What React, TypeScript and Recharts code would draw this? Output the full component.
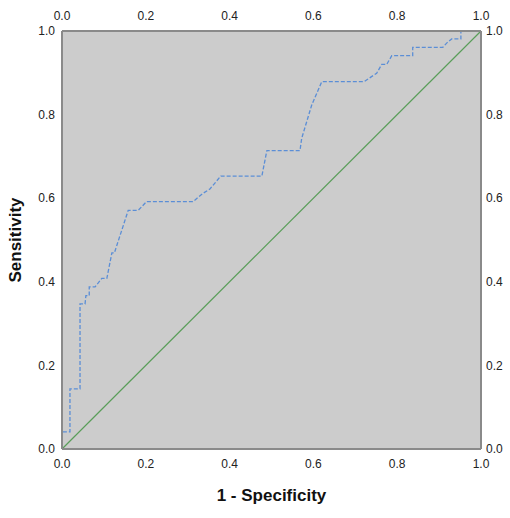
import React from 'react';
import { LineChart, Line, XAxis, YAxis, CartesianGrid } from 'recharts';

// ROC curve: 1 - specificity vs sensitivity
const rocFpr = [
  0, 0, 0.019, 0.019, 0.043, 0.043, 0.055, 0.057, 0.065, 0.065, 0.079, 0.095, 0.107, 0.119,
  0.125, 0.158, 0.182, 0.202, 0.313, 0.337, 0.353, 0.379, 0.477, 0.489, 0.568, 0.572, 0.596,
  0.62, 0.721, 0.751, 0.763, 0.775, 0.787, 0.837, 0.837, 0.909, 0.918, 0.93, 0.952, 0.952, 1,
];
const rocTpr = [
  0, 0.041, 0.041, 0.144, 0.144, 0.347, 0.347, 0.367, 0.367, 0.388, 0.388, 0.408, 0.408, 0.469,
  0.469, 0.571, 0.571, 0.592, 0.592, 0.612, 0.622, 0.653, 0.653, 0.714, 0.714, 0.743, 0.823,
  0.879, 0.879, 0.899, 0.92, 0.92, 0.941, 0.941, 0.961, 0.961, 0.971, 0.981, 0.981, 1, 1,
];

// reference diagonal
const refFpr = [0, 1];
const refTpr = [0, 1];

const axisTicks = [0, 0.2, 0.4, 0.6, 0.8, 1];

const rocData = rocFpr.map((fpr, i) => ({ fpr, tpr: rocTpr[i] }));
const refData = refFpr.map((fpr, i) => ({ fpr, tpr: refTpr[i] }));

const FONT = 'Arial, "Liberation Sans", sans-serif';
const tickStyle = { fontSize: 12, fill: '#222', fontFamily: FONT };
const axisLine = { stroke: '#8a8a8a', strokeWidth: 2 };
const fmt = (v: number) => v.toFixed(1);

const XTitle = ({ viewBox }: any) => (
  <text
    x={viewBox.x + viewBox.width / 2}
    y={viewBox.y + 52}
    textAnchor="middle"
    fontFamily={FONT}
    fontWeight="bold"
    fontSize={17}
    fill="#111"
  >
    1 - Specificity
  </text>
);

const YTitle = ({ viewBox }: any) => {
  const cx = 21;
  const cy = viewBox.y + viewBox.height / 2;
  return (
    <text
      x={cx}
      y={cy}
      transform={`rotate(-90 ${cx} ${cy})`}
      textAnchor="middle"
      fontFamily={FONT}
      fontWeight="bold"
      fontSize={17}
      fill="#111"
    >
      Sensitivity
    </text>
  );
};

export default function App() {
  return (
    <div style={{ position: 'absolute', left: 0, top: 0, background: '#fff' }}>
      <LineChart width={510} height={518} margin={{ top: 0, right: 0, bottom: 0, left: 0 }}>
        <CartesianGrid horizontal={false} vertical={false} fill="#cccccc" />
        <XAxis
          dataKey="fpr"
          type="number"
          domain={[0, 1]}
          ticks={axisTicks}
          tickFormatter={fmt}
          orientation="bottom"
          height={69}
          tickSize={0}
          tickMargin={10}
          tickLine={false}
          axisLine={axisLine}
          tick={tickStyle}
          label={{ content: XTitle }}
        />
        <XAxis
          xAxisId="top"
          dataKey="fpr"
          type="number"
          domain={[0, 1]}
          ticks={axisTicks}
          tickFormatter={fmt}
          orientation="top"
          height={31}
          tickSize={0}
          tickMargin={11}
          tickLine={false}
          axisLine={axisLine}
          tick={tickStyle}
        />
        <YAxis
          type="number"
          domain={[0, 1]}
          ticks={axisTicks}
          tickFormatter={fmt}
          orientation="left"
          width={62}
          tickSize={0}
          tickMargin={7}
          tickLine={false}
          axisLine={axisLine}
          tick={tickStyle}
          label={{ content: YTitle }}
        />
        <YAxis
          yAxisId="right"
          type="number"
          domain={[0, 1]}
          ticks={axisTicks}
          tickFormatter={fmt}
          orientation="right"
          width={29}
          tickSize={0}
          tickMargin={5}
          tickLine={false}
          axisLine={axisLine}
          tick={tickStyle}
        />
        <Line
          xAxisId="top"
          yAxisId="right"
          data={refData}
          dataKey="tpr"
          type="linear"
          stroke="#5a9e5a"
          strokeWidth={1.2}
          dot={false}
          isAnimationActive={false}
        />
        <Line
          data={rocData}
          dataKey="tpr"
          type="linear"
          stroke="#5b8ed6"
          strokeWidth={1.3}
          strokeDasharray="4 2"
          dot={false}
          isAnimationActive={false}
        />
      </LineChart>
    </div>
  );
}
